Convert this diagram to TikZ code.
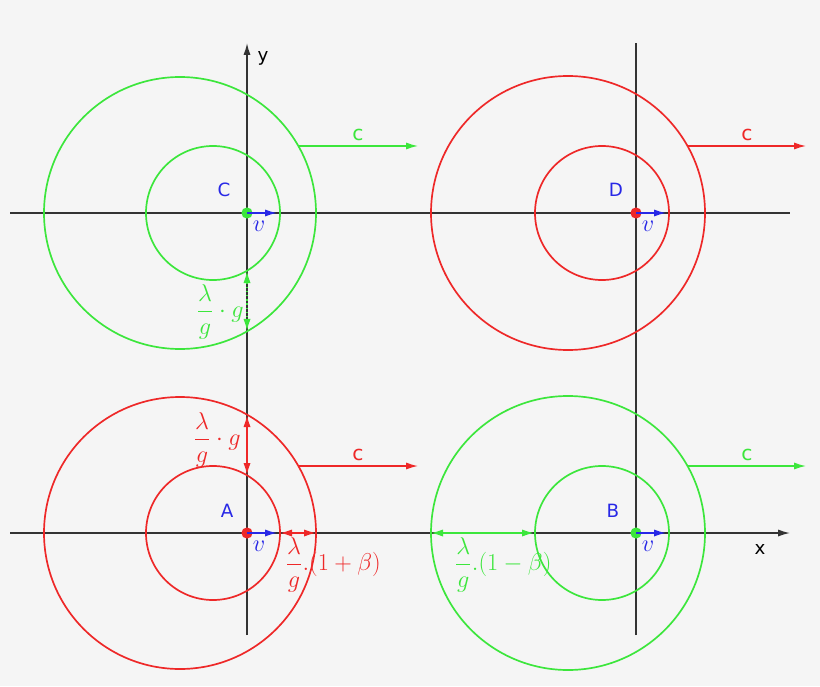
\documentclass[tikz,border=0pt]{standalone}
\usepackage{amsmath}
\usepackage{fontspec}
\setsansfont{DejaVu Sans}
\usepackage{xcolor}
\definecolor{vert}{HTML}{3CE63C}
\definecolor{rouge}{HTML}{EE2828}
\definecolor{bleu}{HTML}{2828E6}
\definecolor{fond}{HTML}{F5F5F5}
\usepackage{tikz}
\usetikzlibrary{arrows.meta}

\begin{document}
\begin{tikzpicture}[x=0.025cm, y=0.025cm, line width=1.1pt,
    >={Latex[length=3mm, width=1.8mm]},
    axe/.style={draw=black!80},
    onde/.style={line width=1.2pt},
    source/.style={shape=circle, fill, inner sep=0pt, minimum size=0.28cm},
    lettre/.style={font=\sffamily\fontsize{13}{15}\selectfont, text=bleu},
    vitesse/.style={draw=bleu, ->},
    cote/.style={<->, line width=1pt},
    etiq/.style={font=\fontsize{16}{18}\selectfont}]
    \fill[fond] (0,0) rectangle (820,686);
    \useasboundingbox (0,0) rectangle (820,686);

    % axes
    \draw[axe] (10,473) -- (790,473);
    \draw[axe, ->] (10,153) -- (790,153);
    \draw[axe, ->] (247,51) -- (247,643);
    \draw[axe] (636,51) -- (636,643);
    \node (y) at (263,628) {\sffamily\fontsize{13}{15}\selectfont y};
    \node (x) at (760,137) {\sffamily\fontsize{13}{15}\selectfont x};

    % sources
    \node (C) [source, fill=vert] at (247,473) {};
    \node (D) [source, fill=rouge] at (636,473) {};
    \node (A) [source, fill=rouge] at (247,153) {};
    \node (B) [source, fill=vert] at (636,153) {};

    % ondes
    \draw[onde, vert] (213,473) circle (67) (180,473) circle (136);
    \draw[onde, rouge] (602,473) circle (67) (568,473) circle (137);
    \draw[onde, rouge] (213,153) circle (67) (180,153) circle (136);
    \draw[onde, vert] (602,153) circle (67) (568,153) circle (137);

    \node [lettre] at (224,496) {C};
    \node [lettre] at (616,496) {D};
    \node [lettre] at (227,175) {A};
    \node [lettre] at (613,175) {B};

    % vitesses
    \foreach \s in {A,B,C,D} {
        \coordinate (v\s) at ([xshift=0.75cm]\s.center);
        \draw[vitesse] (\s.center) -- (v\s);
        \node [text=bleu, font=\LARGE] at ([xshift=0.3cm, yshift=-0.33cm]\s.center) {$v$};
    }

    % celerite c
    \coordinate (c1) at (298,540); \coordinate (c1e) at (418,540);
    \coordinate (c2) at (688,540); \coordinate (c2e) at (806,540);
    \coordinate (c3) at (298,220); \coordinate (c3e) at (418,220);
    \coordinate (c4) at (688,220); \coordinate (c4e) at (806,220);
    \draw[vert, ->] (c1) -- node[above, font=\sffamily\Large] {c} (c1e);
    \draw[rouge, ->] (c2) -- node[above, font=\sffamily\Large] {c} (c2e);
    \draw[rouge, ->] (c3) -- node[above, font=\sffamily\Large] {c} (c3e);
    \draw[vert, ->] (c4) -- node[above, font=\sffamily\Large] {c} (c4e);

    % longueurs d'onde
    \coordinate (l1) at (247,415); \coordinate (l1e) at (247,355);
    \draw[cote, vert, dotted] (l1) -- (l1e);
    \node [etiq, text=vert] at (220,374) {$\dfrac{\lambda}{g}\cdot g$};

    \coordinate (l2) at (247,271); \coordinate (l2e) at (247,211);
    \draw[cote, rouge] (l2) -- (l2e);
    \node [etiq, text=rouge] at (217,246) {$\dfrac{\lambda}{g}\cdot g$};

    \coordinate (l3) at (280,153); \coordinate (l3e) at (316,153);
    \draw[cote, rouge] (l3) -- (l3e);
    \node [etiq, text=rouge] at (333,121) {$\dfrac{\lambda}{g}.(1+\beta)$};

    \coordinate (l4) at (431,153); \coordinate (l4e) at (534,153);
    \draw[cote, vert] (l4) -- (l4e);
    \node [etiq, text=vert] at (503,121) {$\dfrac{\lambda}{g}.(1-\beta)$};
\end{tikzpicture}
\end{document}
